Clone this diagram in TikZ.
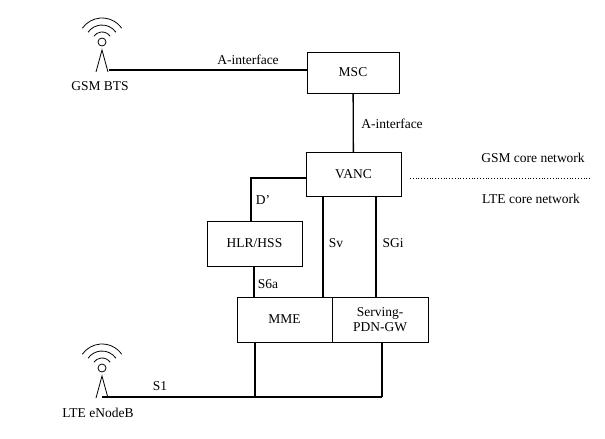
\documentclass[tikz,border=0pt]{standalone}
\usepackage{fontspec}
\setmainfont{Liberation Serif}
\begin{document}
\begin{tikzpicture}[x=1pt,y=-1pt,
  box/.style={draw,thick,minimum width=#1,align=center,inner sep=0pt,font=\fontsize{13.5}{14.5}\selectfont},
  lab/.style={font=\fontsize{13.5}{14}\selectfont},
  ln/.style={line width=1.3pt}]
\useasboundingbox (0,0) rectangle (605,439);
\newcommand\myant[2]{%
  \draw[thick] (#1-6,#2) -- (#1,#2-22) -- (#1+6,#2);
  \draw[thick] (#1,#2-30) circle (4);
  \foreach \r in {10,17,24} \draw[thick] (#1,#2-30) ++(-35:\r) arc[start angle=-35,end angle=-145,radius=\r];}
\node[box=92pt,minimum height=41pt] (msc) at (353,72.5) {MSC};
\node[box=95pt,minimum height=44pt] (vanc) at (353.5,174.5) {VANC};
\node[box=95pt,minimum height=45pt] (hlr) at (254.5,243.5) {HLR/HSS};
\node[box=95pt,minimum height=45pt] (mme) at (284.5,319.5) {MME};
\node[box=96pt,minimum height=45pt] (sgw) at (380,319.5) {Serving-\\PDN-GW};
\myant{102}{72}
\myant{102}{398}
\node[lab] (gsmbts) at (100,86) {GSM BTS};
\node[lab] (enb) at (98,413) {LTE eNodeB};
\coordinate (bts) at (109,70);
\coordinate (enbc) at (102,397);
\draw[ln] (bts) -- (msc.west|-bts);
\node[lab] (a1) at (248,60) {A-interface};
\draw[ln] (msc) -- (vanc);
\node[lab] (a2) at (392,124) {A-interface};
\draw[ln] (vanc.west|-0,178) -| (251,221);
\node[lab] (d) at (263,200) {D'};
\draw[ln] (254,266) -- (254,297);
\node[lab] (s6a) at (268,284) {S6a};
\draw[ln] (323,197) -- (323,297);
\node[lab] (sv) at (336,243) {Sv};
\draw[ln] (376,197) -- (376,297);
\node[lab] (sgi) at (393,243) {SGi};
\draw[ln] (enbc) -- (382,397);
\draw[ln] (255,342) -- (255,397);
\draw[ln] (382,342) -- (382,397);
\node[lab] (s1) at (160,386) {S1};
\draw[thick,dotted] (410,178) -- (590,178);
\node[lab] (gcn) at (533,158) {GSM core network};
\node[lab] (lcn) at (531,199) {LTE core network};
\end{tikzpicture}
\end{document}
